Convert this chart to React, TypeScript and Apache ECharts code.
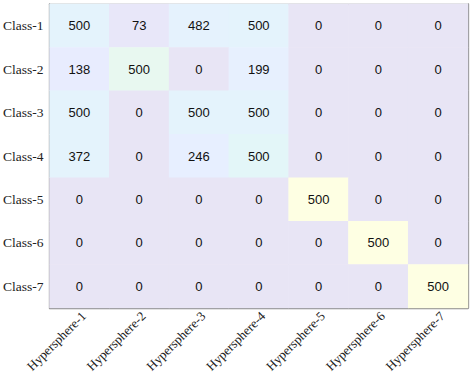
import React, { useEffect, useRef } from "react";
import * as echarts from "echarts";

const hyperspheres = ["Hypersphere-1", "Hypersphere-2", "Hypersphere-3", "Hypersphere-4", "Hypersphere-5", "Hypersphere-6", "Hypersphere-7"];
const classes = ["Class-1", "Class-2", "Class-3", "Class-4", "Class-5", "Class-6", "Class-7"];
const row1 = [500, 73, 482, 500, 0, 0, 0];
const row2 = [138, 500, 0, 199, 0, 0, 0];
const row3 = [500, 0, 500, 500, 0, 0, 0];
const row4 = [372, 0, 246, 500, 0, 0, 0];
const row5 = [0, 0, 0, 0, 500, 0, 0];
const row6 = [0, 0, 0, 0, 0, 500, 0];
const row7 = [0, 0, 0, 0, 0, 0, 500];
const rows = [row1, row2, row3, row4, row5, row6, row7];

// parula-like colormap, faded toward white
const parula: number[][] = [
  [62, 38, 168], [71, 71, 235], [62, 111, 255], [39, 150, 235], [10, 175, 210],
  [30, 185, 175], [60, 195, 130], [165, 200, 75], [225, 190, 55], [250, 195, 55], [249, 251, 20],
];
const ALPHA = 0.12;
const blend = (c: number[]) =>
  "rgb(" + c.map((v) => Math.round(255 - (255 - v) * ALPHA)).join(",") + ")";

export default function App() {
  const ref = useRef<HTMLDivElement>(null);
  useEffect(() => {
    if (!ref.current) return;
    const chart = echarts.init(ref.current, undefined, { renderer: "svg" });
    const data: any[] = [];
    rows.forEach((r, yi) => {
      const total = r.reduce((a, b) => a + b, 0);
      r.forEach((v, xi) => data.push([xi, yi, total ? v / total : 0, v]));
    });
    const frame = { show: true, lineStyle: { color: "#8a8a8a", width: 1.3 } };
    const tick = { show: true, inside: true, length: 4, alignWithLabel: true, lineStyle: { color: "#8a8a8a", width: 1 } };
    chart.setOption({
      animation: false,
      backgroundColor: "#ffffff",
      grid: { left: 49, right: 6, top: 4, bottom: 78, containLabel: false },
      xAxis: [
        {
          type: "category", data: hyperspheres, position: "bottom",
          axisLine: frame, axisTick: tick, splitLine: { show: false },
          axisLabel: { rotate: 45, margin: 10, fontFamily: "Liberation Serif", fontSize: 13, color: "#222", padding: [0, -6, 0, 0] },
        },
        {
          type: "category", data: hyperspheres, position: "top",
          axisLine: frame, axisTick: tick, axisLabel: { show: false }, splitLine: { show: false },
        },
      ],
      yAxis: [
        {
          type: "category", data: classes, inverse: true, position: "left",
          axisLine: frame, axisTick: tick, splitLine: { show: false },
          axisLabel: { margin: 6, fontFamily: "Liberation Serif", fontSize: 13.5, color: "#222" },
        },
        {
          type: "category", data: classes, inverse: true, position: "right",
          axisLine: frame, axisTick: tick, axisLabel: { show: false }, splitLine: { show: false },
        },
      ],
      visualMap: {
        show: false, type: "continuous", dimension: 2, min: 0, max: 1, seriesIndex: 0,
        inRange: { color: parula.map(blend) },
      },
      series: [
        {
          type: "heatmap",
          data,
          label: {
            show: true,
            formatter: (p: any) => String(p.value[3]),
            fontFamily: "Liberation Sans", fontSize: 13, color: "#111",
          },
          emphasis: { disabled: true },
        },
      ],
    });
    return () => chart.dispose();
  }, []);
  return <div ref={ref} style={{ position: "fixed", left: 0, top: 0, width: 474, height: 386 }} />;
}
